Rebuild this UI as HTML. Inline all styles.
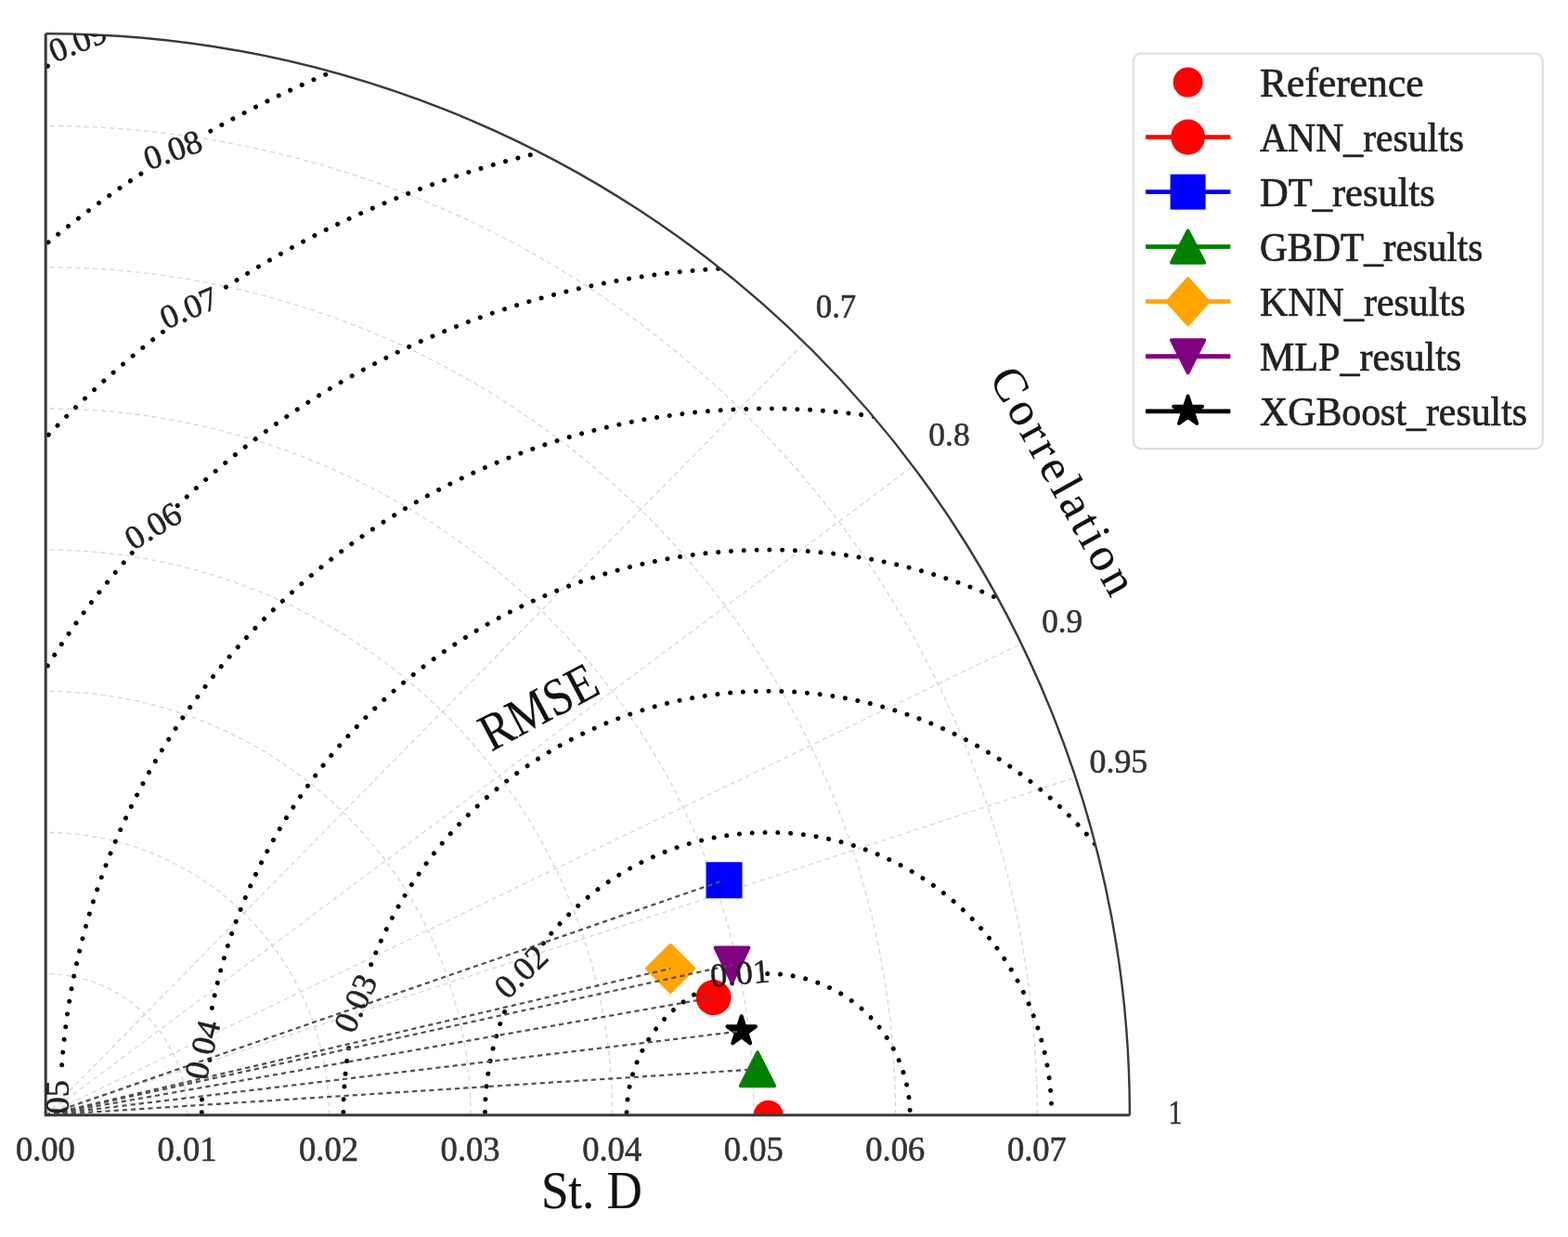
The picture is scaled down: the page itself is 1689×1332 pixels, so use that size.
<!DOCTYPE html><html><head><meta charset="utf-8"><title>Taylor diagram</title>
<style>html,body{margin:0;padding:0;background:#fff;}svg{display:block;}</style></head><body>
<svg width="1689" height="1332" viewBox="0 0 1689 1332">
<rect width="100%" height="100%" fill="#fff"/>
<defs><clipPath id="q">
<path d="M49.2,1200.7 L1216.9,1200.7 A1167.7,1164.5 0 0 0 49.2,36.2 Z"/>
</clipPath></defs>
<g clip-path="url(#q)" fill="none" stroke="#d9d9d9" stroke-width="1.4" stroke-dasharray="5.2 4">
<path d="M201.77,1200.7 A152.57,152.15 0 0 0 49.2,1048.55"/>
<path d="M354.34,1200.7 A305.14,304.3 0 0 0 49.2,896.4"/>
<path d="M506.91,1200.7 A457.71,456.46 0 0 0 49.2,744.24"/>
<path d="M659.48,1200.7 A610.28,608.61 0 0 0 49.2,592.09"/>
<path d="M812.05,1200.7 A762.85,760.76 0 0 0 49.2,439.94"/>
<path d="M964.62,1200.7 A915.42,912.91 0 0 0 49.2,287.79"/>
<path d="M1117.19,1200.7 A1067.99,1065.06 0 0 0 49.2,135.64"/>
<path d="M49.2,1200.7 L866.59,369.08"/>
<path d="M49.2,1200.7 L983.36,502"/>
<path d="M49.2,1200.7 L1100.13,693.11"/>
<path d="M49.2,1200.7 L1158.52,837.08"/>
</g>
<g clip-path="url(#q)" fill="none" stroke="#000" stroke-width="5.0" stroke-linecap="round" stroke-dasharray="0.01 13.8">
<path d="M826.7,1048.55 A152.57,152.15 0 0 1 980.17,1200.7"/>
<path d="M747.49,1071.21 A152.57,152.15 0 0 0 675.03,1200.7"/>
<path d="M585.23,1015.83 A305.14,304.3 0 0 1 1132.74,1200.7"/>
<path d="M543.54,1089.56 A305.14,304.3 0 0 0 522.46,1200.7"/>
<path d="M399.73,1038.58 A457.71,456.46 0 0 1 1285.31,1200.7"/>
<path d="M375.6,1128.8 A457.71,456.46 0 0 0 369.89,1200.7"/>
<path d="M228.38,1085.37 A610.28,608.61 0 0 1 1437.88,1200.7"/>
<path d="M217.55,1183.91 A610.28,608.61 0 0 0 217.32,1200.7"/>
<path d="M66.67,1146.83 A762.85,760.76 0 0 1 1590.45,1200.7"/>
<path d="M191.28,544.4 A915.42,912.91 0 0 1 1743.02,1200.7"/>
<path d="M142.29,595.45 A915.42,912.91 0 0 0 -87.82,1200.7"/>
<path d="M243.43,309.09 A1067.99,1065.06 0 0 1 1895.59,1200.7"/>
<path d="M175.4,357.3 A1067.99,1065.06 0 0 0 -240.39,1200.7"/>
<path d="M226.87,141.12 A1220.56,1217.22 0 0 1 2048.16,1200.7"/>
<path d="M151.84,187.06 A1220.56,1217.22 0 0 0 -392.96,1200.7"/>
<path d="M145.95,11.98 A1373.13,1369.37 0 0 1 2200.73,1200.7"/>
<path d="M51.41,71.1 A1373.13,1369.37 0 0 0 -545.53,1200.7"/>
</g>
<g clip-path="url(#q)"><circle cx="827.6" cy="1200.7" r="16" fill="#ff0000"/></g>
<rect x="762.45" y="930.25" width="35.1" height="35.1" fill="#0000ff" stroke="#0000ff" stroke-width="3.9" stroke-linejoin="miter"/>
<polygon points="722.2,1017.95 747.3,1042.9 722.2,1067.85 697.1,1042.9" fill="#ffa500" stroke="#ffa500" stroke-width="3.9" stroke-linejoin="round"/>
<polygon points="770.45,1020.45 806.55,1020.45 788.5,1057.55" fill="#800080" stroke="#800080" stroke-width="3.9" stroke-linejoin="round"/>
<ellipse cx="768.6" cy="1074.1" rx="19" ry="19" fill="#ff0000"/>
<polygon points="798.7,1094.16 802.32,1105.31 814.05,1105.31 804.56,1112.21 808.19,1123.36 798.7,1116.47 789.21,1123.36 792.84,1112.21 783.35,1105.31 795.08,1105.31" fill="#000000" stroke="#000000" stroke-width="3.9" stroke-linejoin="round"/>
<polygon points="816,1133.3 834.2,1169.3 797.8,1169.3" fill="#008000" stroke="#008000" stroke-width="3.9" stroke-linejoin="round"/>
<g fill="none" stroke="#505050" stroke-width="2.2" stroke-dasharray="5.2 4">
<path d="M49.2,1200.7 L780,947.8"/>
<path d="M49.2,1200.7 L722.2,1042.9"/>
<path d="M49.2,1200.7 L788.5,1039"/>
<path d="M49.2,1200.7 L768.6,1074.1"/>
<path d="M49.2,1200.7 L798.7,1110.3"/>
<path d="M49.2,1200.7 L816,1151.3"/>
</g>
<g fill="none" stroke="#403838">
<path d="M49.2,36.2 L49.2,1200.7 L1216.9,1200.7" stroke-width="3.0" stroke-linejoin="miter"/>
<path d="M1216.9,1200.7 A1167.7,1164.5 0 0 0 49.2,36.2" stroke-width="2.4"/>
</g>
<g clip-path="url(#q)" font-family="'Liberation Serif', 'DejaVu Serif', serif" font-size="36" fill="#222" stroke="#222" stroke-width="0.5" text-anchor="middle">
<text x="0" y="12" transform="translate(797,1048) rotate(-4.8)" textLength="64" lengthAdjust="spacingAndGlyphs">0.01</text>
<text x="0" y="12" transform="translate(561.2,1046.3) rotate(-44.0)" textLength="64" lengthAdjust="spacingAndGlyphs">0.02</text>
<text x="0" y="12" transform="translate(383,1080.3) rotate(-65.4)" textLength="64" lengthAdjust="spacingAndGlyphs">0.03</text>
<text x="0" y="12" transform="translate(218.2,1130.4) rotate(-76.0)" textLength="64" lengthAdjust="spacingAndGlyphs">0.04</text>
<text x="0" y="12" transform="translate(62.2,1195) rotate(-90.0)" textLength="64" lengthAdjust="spacingAndGlyphs">0.05</text>
<text x="0" y="12" transform="translate(164.8,566.3) rotate(-31.4)" textLength="64" lengthAdjust="spacingAndGlyphs">0.06</text>
<text x="0" y="12" transform="translate(203.5,331.5) rotate(-23.0)" textLength="64" lengthAdjust="spacingAndGlyphs">0.07</text>
<text x="0" y="12" transform="translate(186,161.4) rotate(-19.6)" textLength="64" lengthAdjust="spacingAndGlyphs">0.08</text>
<text x="0" y="12" transform="translate(83.8,44.6) rotate(-22.0)" textLength="64" lengthAdjust="spacingAndGlyphs">0.09</text>
</g>
<g font-family="'Liberation Serif', 'DejaVu Serif', serif" fill="#333" stroke="#333" stroke-width="0.6" text-anchor="middle">
<text x="48.9" y="1250" font-size="37.5" textLength="64" lengthAdjust="spacingAndGlyphs">0.00</text>
<text x="201.47" y="1250" font-size="37.5" textLength="64" lengthAdjust="spacingAndGlyphs">0.01</text>
<text x="354.04" y="1250" font-size="37.5" textLength="64" lengthAdjust="spacingAndGlyphs">0.02</text>
<text x="506.61" y="1250" font-size="37.5" textLength="64" lengthAdjust="spacingAndGlyphs">0.03</text>
<text x="659.18" y="1250" font-size="37.5" textLength="64" lengthAdjust="spacingAndGlyphs">0.04</text>
<text x="811.75" y="1250" font-size="37.5" textLength="64" lengthAdjust="spacingAndGlyphs">0.05</text>
<text x="964.32" y="1250" font-size="37.5" textLength="64" lengthAdjust="spacingAndGlyphs">0.06</text>
<text x="1116.89" y="1250" font-size="37.5" textLength="64" lengthAdjust="spacingAndGlyphs">0.07</text>
<text x="900.5" y="342" font-size="36" textLength="43.5" lengthAdjust="spacingAndGlyphs">0.7</text>
<text x="1022.5" y="480.2" font-size="36" textLength="44.3" lengthAdjust="spacingAndGlyphs">0.8</text>
<text x="1144.2" y="680.5" font-size="36" textLength="43.8" lengthAdjust="spacingAndGlyphs">0.9</text>
<text x="1204.9" y="831.6" font-size="36" textLength="62.8" lengthAdjust="spacingAndGlyphs">0.95</text>
<text x="1266" y="1209.7" font-size="36" textLength="15" lengthAdjust="spacingAndGlyphs">1</text>
</g>
<g font-family="'Liberation Serif', 'DejaVu Serif', serif" fill="#111" stroke="#111" stroke-width="0.15" text-anchor="middle">
<text x="637.4" y="1301.2" font-size="58" textLength="109" lengthAdjust="spacingAndGlyphs">St. D</text>
<text x="0" y="19" transform="translate(580,761) rotate(-28)" font-size="57" textLength="136" lengthAdjust="spacingAndGlyphs">RMSE</text>
<text x="0" y="19" transform="translate(1147.5,516.5) rotate(61)" font-size="51" textLength="272" lengthAdjust="spacing">Correlation</text>
</g>
<rect x="1220.8" y="57.4" width="441" height="425.9" rx="8.5" ry="8.5" fill="#fff" stroke="#dcdcdc" stroke-width="2"/>
<ellipse cx="1279.6" cy="88.6" rx="16" ry="16" fill="#ff0000"/>
<text x="1357" y="103.9" font-family="'Liberation Serif', 'DejaVu Serif', serif" font-size="44" fill="#222" stroke="#222" stroke-width="0.7" textLength="176.6" lengthAdjust="spacingAndGlyphs">Reference</text>
<line x1="1234.1" y1="147.63" x2="1325.3" y2="147.63" stroke="#ff0000" stroke-width="4.8"/>
<ellipse cx="1279.6" cy="147.63" rx="18.4" ry="19.2" fill="#ff0000"/>
<text x="1357" y="162.93" font-family="'Liberation Serif', 'DejaVu Serif', serif" font-size="44" fill="#222" stroke="#222" stroke-width="0.7" textLength="220" lengthAdjust="spacingAndGlyphs">ANN_results</text>
<line x1="1234.1" y1="206.66" x2="1325.3" y2="206.66" stroke="#0000ff" stroke-width="4.8"/>
<rect x="1262.55" y="189.61" width="34.1" height="34.1" fill="#0000ff" stroke="#0000ff" stroke-width="3.9" stroke-linejoin="miter"/>
<text x="1357" y="221.96" font-family="'Liberation Serif', 'DejaVu Serif', serif" font-size="44" fill="#222" stroke="#222" stroke-width="0.7" textLength="188.8" lengthAdjust="spacingAndGlyphs">DT_results</text>
<line x1="1234.1" y1="265.69" x2="1325.3" y2="265.69" stroke="#008000" stroke-width="4.8"/>
<polygon points="1279.6,248.54 1297.3,282.84 1261.9,282.84" fill="#008000" stroke="#008000" stroke-width="3.9" stroke-linejoin="round"/>
<text x="1357" y="280.99" font-family="'Liberation Serif', 'DejaVu Serif', serif" font-size="44" fill="#222" stroke="#222" stroke-width="0.7" textLength="240.3" lengthAdjust="spacingAndGlyphs">GBDT_results</text>
<line x1="1234.1" y1="324.72" x2="1325.3" y2="324.72" stroke="#ffa500" stroke-width="4.8"/>
<polygon points="1279.6,300.27 1301.55,324.72 1279.6,349.17 1257.65,324.72" fill="#ffa500" stroke="#ffa500" stroke-width="3.9" stroke-linejoin="round"/>
<text x="1357" y="340.02" font-family="'Liberation Serif', 'DejaVu Serif', serif" font-size="44" fill="#222" stroke="#222" stroke-width="0.7" textLength="221.5" lengthAdjust="spacingAndGlyphs">KNN_results</text>
<line x1="1234.1" y1="383.75" x2="1325.3" y2="383.75" stroke="#800080" stroke-width="4.8"/>
<polygon points="1261.9,366.15 1297.3,366.15 1279.6,401.35" fill="#800080" stroke="#800080" stroke-width="3.9" stroke-linejoin="round"/>
<text x="1357" y="399.05" font-family="'Liberation Serif', 'DejaVu Serif', serif" font-size="44" fill="#222" stroke="#222" stroke-width="0.7" textLength="217.2" lengthAdjust="spacingAndGlyphs">MLP_results</text>
<line x1="1234.1" y1="442.78" x2="1325.3" y2="442.78" stroke="#000000" stroke-width="4.8"/>
<polygon points="1279.6,426.53 1283.25,437.76 1295.06,437.76 1285.5,444.7 1289.15,455.93 1279.6,448.99 1270.05,455.93 1273.7,444.7 1264.14,437.76 1275.95,437.76" fill="#000000" stroke="#000000" stroke-width="3.9" stroke-linejoin="round"/>
<text x="1357" y="458.08" font-family="'Liberation Serif', 'DejaVu Serif', serif" font-size="44" fill="#222" stroke="#222" stroke-width="0.7" textLength="288.1" lengthAdjust="spacingAndGlyphs">XGBoost_results</text>
</svg></body></html>
